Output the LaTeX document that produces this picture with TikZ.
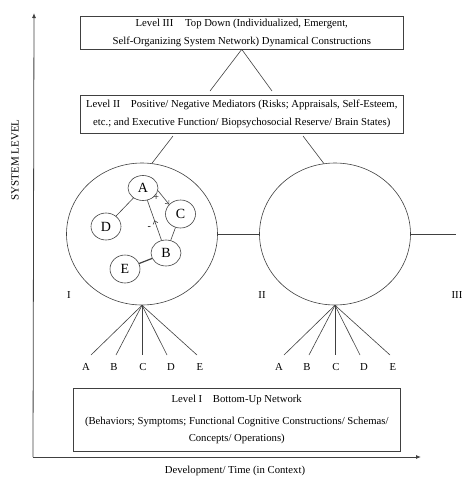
\documentclass[tikz,border=0pt]{standalone}
\usepackage{fontspec}
\setmainfont{Liberation Serif}
\usetikzlibrary{shapes.geometric,arrows.meta,decorations.markings}
\begin{document}
\begin{tikzpicture}[x=1pt,y=-1pt,
  ln/.style={draw=black!75, line width=0.6pt},
  axis/.style={draw=black!75, line width=0.8pt, -{Latex[length=5pt,width=4pt]}},
  box/.style={rectangle, draw=black!75, line width=0.7pt, align=center, inner sep=0pt, font=\fontsize{10.7}{17.5}\selectfont},
  big/.style={ellipse, draw=black!75, line width=0.6pt, minimum width=151pt, minimum height=142pt, inner sep=0pt},
  sm/.style={ellipse, draw=black!75, line width=0.6pt, minimum width=30pt, minimum height=27pt, inner sep=0pt, font=\fontsize{14}{14}\selectfont},
  lbl/.style={font=\fontsize{10.7}{12}\selectfont, inner sep=0pt},
  midarrow/.style={postaction={decorate}, decoration={markings, mark=at position 0.5 with {\arrow{Straight Barb[length=3pt,width=5pt]}}}}
]
\useasboundingbox (0,0) rectangle (474,488);

% axes
\coordinate (o) at (33,457);
\coordinate (ytop) at (34,13);
\coordinate (xend) at (421,457);
\draw[axis] (o) -- (ytop);
\draw[axis] (o) -- (xend);
\node[lbl, rotate=90, font=\fontsize{11}{12}\selectfont] (ylab) at (15,160) {SYSTEM LEVEL};
\node[lbl] (xlab) at (235,471) {Development/ Time (in Context)};

% level boxes
\node[box, minimum width=322.5pt, minimum height=32.5pt] (L3) at (241.75,32.75)
  {Level III\hspace{1.1em}Top Down (Individualized, Emergent,\\Self-Organizing System Network) Dynamical Constructions};
\node[box, minimum width=322.5pt, minimum height=38pt] (L2) at (241.75,114)
  {Level II\hspace{1em}Positive/ Negative Mediators (Risks; Appraisals, Self-Esteem,\\etc.; and Executive Function/ Biopsychosocial Reserve/ Brain States)};
\node[box, minimum width=326.5pt, minimum height=63pt] (L1) at (236.75,419.5)
  {Level I\hspace{1em}Bottom-Up Network\\[4pt](Behaviors; Symptoms; Functional Cognitive Constructions/ Schemas/\\Concepts/ Operations)};

% triangle between L3 and L2
\coordinate (t1) at (210,91);
\coordinate (t2) at (272,91);
\draw[ln] (t1) -- (L3.south) -- (t2);

% big circles
\node[big] (c1) at (142,234) {};
\node[big] (c2) at (335,234) {};
\coordinate (s1) at (173,136);
\coordinate (s2) at (303,136);
\draw[ln] (s1) -- (c1.82);
\draw[ln] (s2) -- (c2.99);
\coordinate (rend) at (456,234);
\draw[ln] (c1.east) -- (c2.west);
\draw[ln] (c2.east) -- (rend);

% roman numerals
\node[lbl] (r1) at (69,295) {I};
\node[lbl] (r2) at (262,295) {II};
\node[lbl] (r3) at (457,295) {III};

% fans
\foreach \c/\cx in {c1/142, c2/335}{
  \foreach \n/\dx/\lx in {A/-51/-56, B/-26/-28, C/0/1, D/25/29, E/55/58}{
    \coordinate (\c f\n) at (\cx+\dx,355);
    \draw[ln] (\c.south) -- (\c f\n);
    \node[lbl] (\c l\n) at (\cx+\lx,367) {\n};
  }
}

% inner network
\node[sm, minimum height=25pt] (A) at (143,188) {A};
\node[sm, minimum height=28pt] (C) at (180.5,214) {C};
\node[sm] (D) at (106,226.5) {D};
\node[sm, minimum height=26pt] (B) at (166,253) {B};
\node[sm, minimum height=28pt] (E) at (125,269) {E};
\draw[ln] (A) -- (D);
\draw[ln] (C) -- (B);
\draw[ln, line width=1.2pt] (E) -- (B);
\draw[ln, midarrow] (B) -- node[pos=0.3, left=6pt, font=\fontsize{10}{10}\selectfont, inner sep=0pt] {-} (A);
\draw[ln, -{Straight Barb[length=3pt,width=5pt]}] (A.-10) -- node[pos=0.2, below left=1pt, font=\fontsize{10}{10}\selectfont, inner sep=0pt] {+} (C.140);
\end{tikzpicture}
\end{document}
